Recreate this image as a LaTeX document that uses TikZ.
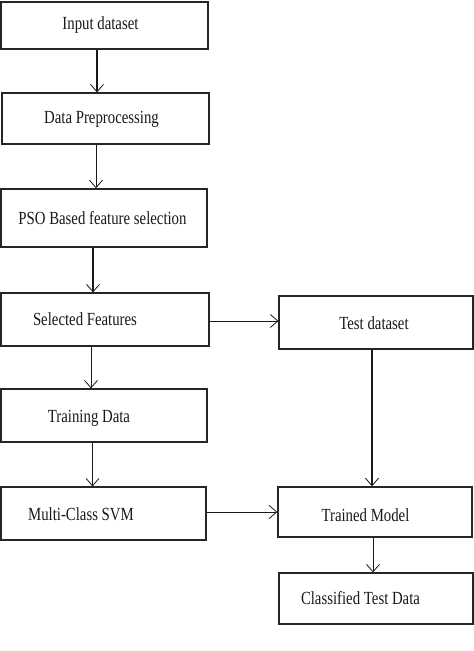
\documentclass[tikz,border=0pt]{standalone}
\usepackage{fontspec}
\setmainfont[FakeStretch=0.8]{Liberation Serif}
\usetikzlibrary{arrows.meta}
\begin{document}
\begin{tikzpicture}[x=1pt,y=-1pt,
  box/.style={draw=black!85,line width=1.1pt,rectangle,inner sep=0pt},
  lbl/.style={inner sep=0pt,font=\fontsize{18.5}{20}\selectfont,text=black!90},
  arr/.style={draw=black!90,line width=0.8pt,-{Straight Barb[length=7.5pt,width=13pt,line width=0.8pt]}},
  thickarr/.style={arr,line width=1.3pt}]
\useasboundingbox (0,0) rectangle (474,651);
\fill[white] (0,0) rectangle (474,651);
% boxes
\node[box,minimum width=207pt,minimum height=47pt] (b1) at (104.5,25.5) {};
\node[box,minimum width=207pt,minimum height=51pt] (b2) at (105.5,118.5) {};
\node[box,minimum width=206pt,minimum height=58pt,line width=1.4pt] (b3) at (104,218) {};
\node[box,minimum width=208pt,minimum height=53pt] (b4) at (105,319.5) {};
\node[box,minimum width=194pt,minimum height=53pt] (td) at (376,322.5) {};
\node[box,minimum width=206pt,minimum height=53pt] (tr) at (104,415.5) {};
\node[box,minimum width=205pt,minimum height=53pt] (svm) at (103.5,513.5) {};
\node[box,minimum width=194pt,minimum height=50pt,line width=1.4pt] (tm) at (375,512) {};
\node[box,minimum width=194pt,minimum height=51pt] (ct) at (376,598.5) {};
% labels
\node[lbl] (l1) at (100.5,25) {Input dataset};
\node[lbl] (l2) at (101.5,119) {Data Preprocessing};
\node[lbl] (l3) at (102.5,218) {PSO Based feature selection};
\node[lbl] (l4) at (85,319) {Selected Features};
\node[lbl] (l5) at (374,323) {Test dataset};
\node[lbl] (l6) at (89,418) {Training Data};
\node[lbl] (l7) at (81,514) {Multi-Class SVM};
\node[lbl] (l8) at (365.5,515) {Trained Model};
\node[lbl] (l9) at (360.5,598) {Classified Test Data};
% connectors
\draw[thickarr] ([xshift=-7.5pt]b1.south) -- ([xshift=-7.5pt]b1.south |- b2.north);
\draw[arr] ([xshift=-9.5pt]b2.south) -- ([xshift=-9.5pt]b2.south |- b3.north);
\draw[thickarr] ([xshift=-11pt]b3.south) -- ([xshift=-11pt]b3.south |- b4.north);
\draw[arr] ([yshift=-1.5pt]b4.east) -- ([yshift=-1.5pt]b4.east -| td.west);
\draw[arr] ([xshift=-14pt]b4.south) -- ([xshift=-14pt]b4.south |- tr.north);
\draw[arr] ([xshift=-11.5pt]tr.south) -- ([xshift=-11.5pt]tr.south |- svm.north);
\draw[arr] ([yshift=1.5pt]svm.east) -- ([yshift=1.5pt]svm.east -| tm.west);
\draw[thickarr] ([xshift=-4pt]td.south) -- ([xshift=-4pt]td.south |- tm.north);
\draw[arr] ([xshift=-2pt]tm.south) -- ([xshift=-2pt]tm.south |- ct.north);
\end{tikzpicture}
\end{document}
